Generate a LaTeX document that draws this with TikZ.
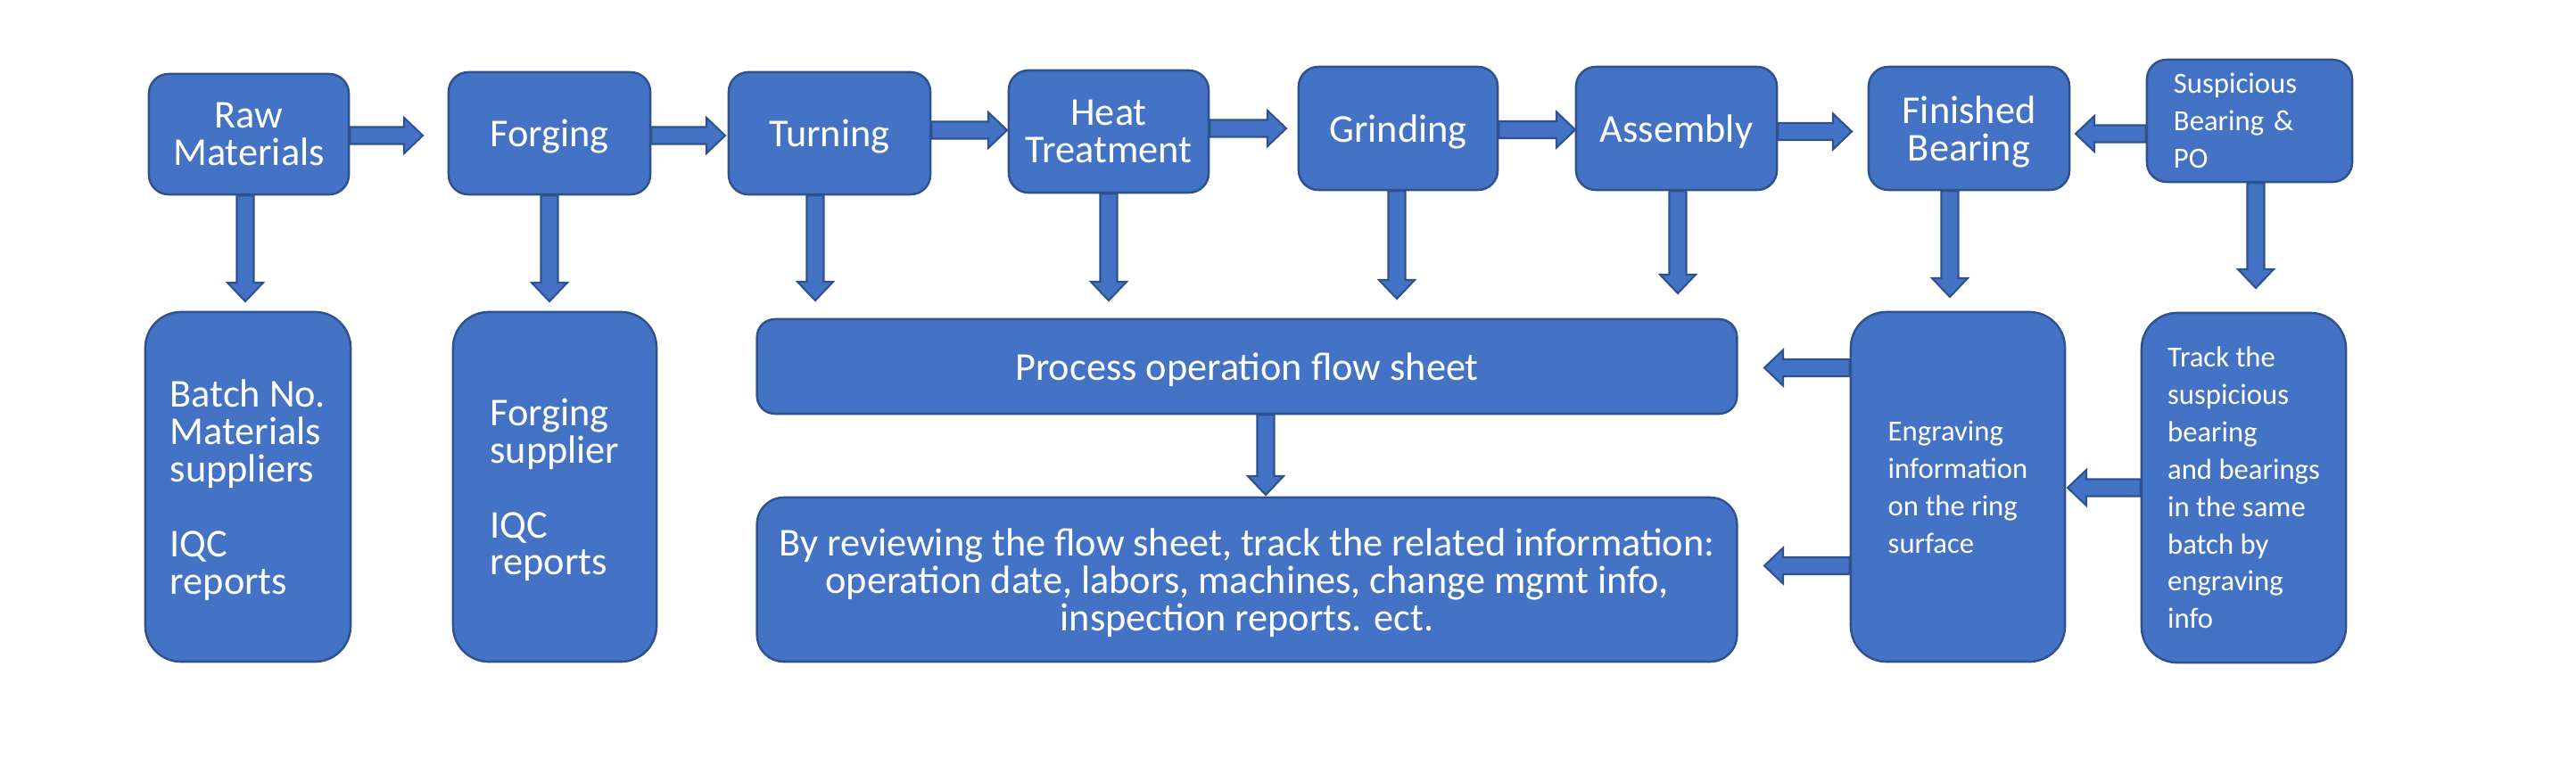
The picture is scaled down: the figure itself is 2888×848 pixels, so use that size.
\documentclass[tikz,border=0pt]{standalone}
\usepackage{fontspec}
\setmainfont{Carlito}
\usetikzlibrary{calc}

\definecolor{boxblue}{RGB}{68,114,196}
\definecolor{edgeblue}{RGB}{47,82,143}

\newcommand{\blockarrow}[2]{%
  \coordinate (ba-a) at (#1);
  \coordinate (ba-b) at (#2);
  \coordinate (ba-h) at ($(ba-b)!0.21cm!(ba-a)$);
  \filldraw[blockarr] ($(ba-a)!0.095cm!90:(ba-b)$) -- ($(ba-h)!0.095cm!90:(ba-b)$) -- ($(ba-h)!0.2cm!90:(ba-b)$)
    -- (ba-b) -- ($(ba-h)!0.2cm!-90:(ba-b)$) -- ($(ba-h)!0.095cm!-90:(ba-b)$) -- ($(ba-a)!0.095cm!-90:(ba-b)$) -- cycle;}

\begin{document}
\begin{tikzpicture}[x=0.01cm,y=-0.01cm,
  box/.style={draw=edgeblue,fill=boxblue,line width=0.7pt,text=white,inner sep=0pt},
  flat/.style={box,text depth=0pt},
  stage/.style={flat,rounded corners=0.22cm,align=center,bigtext},
  tallbox/.style={flat,rounded corners=0.4cm,align=left,minimum height=3.92cm},
  bigtext/.style={font=\fontsize{12.6}{11.9}\selectfont},
  smalltext/.style={font=\fontsize{9.3}{11.9}\selectfont},
  blockarr/.style={fill=boxblue,draw=edgeblue,line width=0.6pt,line join=miter}]
  \useasboundingbox (0,0) rectangle (2888,848);
  \node[stage,minimum width=2.24cm,minimum height=1.35cm] (raw) at (279,150.5) {Raw\\Materials};
  \node[stage,minimum width=2.26cm,minimum height=1.37cm] (forg) at (616,149.5) {Forging};
  \node[stage,minimum width=2.26cm,minimum height=1.37cm] (turn) at (930,149.5) {Turning};
  \node[stage,minimum width=2.24cm,minimum height=1.37cm] (heat) at (1243,147.5) {Heat\\Treatment};
  \node[stage,minimum width=2.23cm,minimum height=1.38cm] (grind) at (1567.5,144) {Grinding};
  \node[stage,minimum width=2.25cm,minimum height=1.38cm] (asm) at (1879.5,144) {Assembly};
  \node[stage,minimum width=2.25cm,minimum height=1.38cm] (fin) at (2207.5,144) {Finished\\Bearing};
  \node[box,rounded corners=0.22cm,align=left,smalltext,text width=1.7cm,inner xsep=0.3cm,minimum height=1.37cm] (susp) at (2522,135.5) {Suspicious\\Bearing \&\\PO};
  \node[tallbox,bigtext,minimum width=2.3cm] (batch) at (278,546) {Batch No.\\Materials\\suppliers\\[11.9pt]IQC\\reports};
  \node[tallbox,bigtext,minimum width=2.28cm] (fsup) at (622,546) {Forging\\supplier\\[11.9pt]IQC\\reports};
  \node[flat,rounded corners=0.2cm,bigtext,minimum width=10.98cm,minimum height=1.06cm] (flow) at (1398,411) {Process operation flow sheet};
  \node[flat,rounded corners=0.3cm,bigtext,align=center,minimum width=10.98cm,minimum height=1.84cm] (review) at (1398,650) {By reviewing the flow sheet, track the related information:\\operation date, labors, machines, change mgmt info,\\inspection reports. ect.};
  \node[tallbox,smalltext,minimum width=2.4cm] (engr) at (2195,546) {Engraving\\information\\on the ring\\surface};
  \node[tallbox,smalltext,minimum width=2.29cm] (track) at (2515.5,547) {Track the\\suspicious\\bearing\\and bearings\\in the same\\batch by\\engraving\\info};
  \coordinate (rawrt) at (474,152);
  \coordinate (forgrt) at (813,152);
  \coordinate (turnrt) at (1129,146);
  \coordinate (heatrt) at (1442,144);
  \coordinate (grindrt) at (1766,145.5);
  \coordinate (asmrt) at (2076,147.5);
  \coordinate (susplt) at (2327,150);
  \coordinate (rawdn) at (275,338);
  \coordinate (forgdn) at (616,338);
  \coordinate (turndn) at (914,337);
  \coordinate (heatdn) at (1243,337);
  \coordinate (grinddn) at (1566,335);
  \coordinate (asmdn) at (1881,329);
  \coordinate (findn) at (2186,333);
  \coordinate (suspdn) at (2529,323);
  \coordinate (flowdn) at (1419,555);
  \coordinate (engup) at (1978,412.5);
  \coordinate (englo) at (1978,634.5);
  \coordinate (tracklt) at (2318,547);
  \blockarrow{raw.east |- rawrt}{rawrt}
  \blockarrow{forg.east |- forgrt}{forgrt}
  \blockarrow{turn.east |- turnrt}{turnrt}
  \blockarrow{heat.east |- heatrt}{heatrt}
  \blockarrow{grind.east |- grindrt}{grindrt}
  \blockarrow{asm.east |- asmrt}{asmrt}
  \blockarrow{susp.west |- susplt}{susplt}
  \blockarrow{rawdn |- raw.south}{rawdn}
  \blockarrow{forgdn |- forg.south}{forgdn}
  \blockarrow{turndn |- turn.south}{turndn}
  \blockarrow{heatdn |- heat.south}{heatdn}
  \blockarrow{grinddn |- grind.south}{grinddn}
  \blockarrow{asmdn |- asm.south}{asmdn}
  \blockarrow{findn |- fin.south}{findn}
  \blockarrow{suspdn |- susp.south}{suspdn}
  \blockarrow{flowdn |- flow.south}{flowdn}
  \blockarrow{engr.west |- engup}{engup}
  \blockarrow{engr.west |- englo}{englo}
  \blockarrow{track.west |- tracklt}{tracklt}
\end{tikzpicture}
\end{document}
